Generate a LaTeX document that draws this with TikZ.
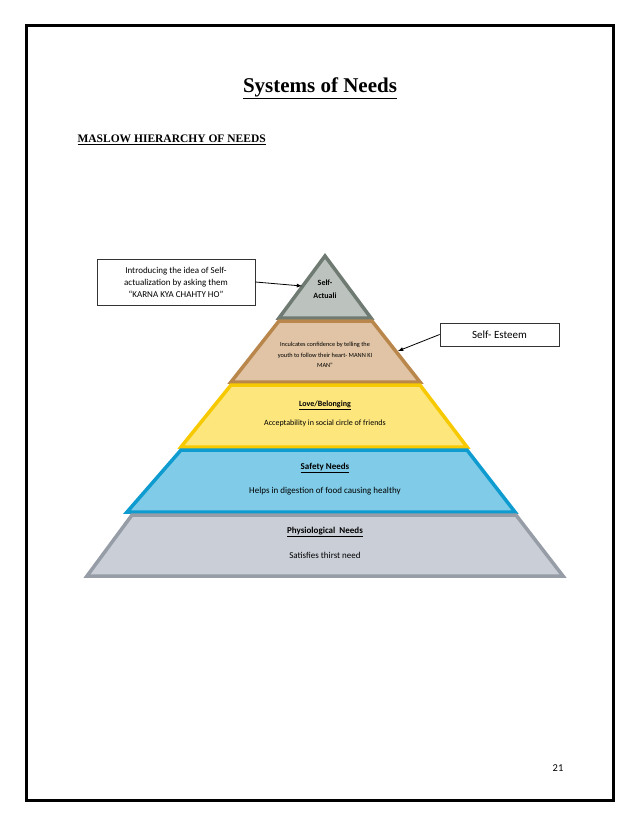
\documentclass[tikz,border=0pt]{standalone}
\usepackage{fontspec}
\setmainfont{Carlito}
\newfontfamily\serifx{Liberation Serif}
\definecolor{c1d}{HTML}{6E7A72}\definecolor{c1f}{HTML}{BCC2BE}
\definecolor{c2d}{HTML}{B9874B}\definecolor{c2f}{HTML}{E0C4A5}
\definecolor{c3d}{HTML}{F7C900}\definecolor{c3f}{HTML}{FDE67C}
\definecolor{c4d}{HTML}{0E9BD0}\definecolor{c4f}{HTML}{80CCE8}
\definecolor{c5d}{HTML}{979DA6}\definecolor{c5f}{HTML}{CACED6}
\begin{document}
\begin{tikzpicture}[x=1pt,y=-1pt,
  lvl/.style={line width=3.5pt,line join=miter},
  box/.style={draw=black!80,line width=0.8pt,fill=white,inner sep=0pt},
  arr/.style={-latex,line width=0.8pt}]
\useasboundingbox (0,0) rectangle (638,826);
\fill[white] (0,0) rectangle (638,826);
\draw[line width=3pt] (26,26) rectangle (613,800);
\node (title) at (320,88) {\serifx\bfseries\fontsize{21}{24}\selectfont\underline{Systems of Needs}};
\node[anchor=west] (sub) at (74,140) {\serifx\bfseries\fontsize{11.5}{13}\selectfont\underline{MASLOW HIERARCHY OF NEEDS}};
% levels
\draw[lvl,draw=c1d,fill=c1f] (325,256) -- (371,318) -- (279,318) -- cycle;
\begin{scope}
\clip (325,256) -- (369,316) -- (281,316) -- cycle;
\node[font=\bfseries\fontsize{8}{10}\selectfont,align=center,anchor=north] (sa) at (325,276) {Self-\\[3pt]Actuali};
\end{scope}
\draw[lvl,draw=c2d,fill=c2f] (279,321) -- (372,321) -- (420,382) -- (231,382) -- cycle;
\node[font=\fontsize{6.3}{10.5}\selectfont,align=center] (t2) at (325,355) {Inculcates confidence by telling the\\youth to follow their heart- MANN KI\\MAN"};
\draw[lvl,draw=c3d,fill=c3f] (231,385) -- (420,385) -- (467,447) -- (181,447) -- cycle;
\node[font=\bfseries\fontsize{8}{9}\selectfont] (h3) at (325,405) {\underline{Love/Belonging}};
\node[font=\fontsize{8}{9}\selectfont] (t3) at (325,423) {Acceptability in social circle of friends};
\draw[lvl,draw=c4d,fill=c4f] (181,450) -- (467,450) -- (515,512) -- (127,512) -- cycle;
\node[font=\bfseries\fontsize{9}{10}\selectfont] (h4) at (325,468) {\underline{Safety Needs}};
\node[font=\fontsize{9}{10}\selectfont] (t4) at (325,491) {Helps in digestion of food causing healthy};
\draw[lvl,draw=c5d,fill=c5f] (132,515) -- (516,515) -- (563,576) -- (87,576) -- cycle;
\node[font=\bfseries\fontsize{9}{10}\selectfont] (h5) at (325,532) {\underline{Physiological\ \ Needs}};
\node[font=\fontsize{9}{10}\selectfont] (t5) at (325,555) {Satisfies thirst need};
% callouts
\node[box,minimum width=158pt,minimum height=46pt,align=center,font=\fontsize{9}{12}\selectfont] (lb) at (176,282) {Introducing the idea of Self-\\actualization by asking them\\``KARNA KYA CHAHTY HO''};
\coordinate (la) at (302,286);
\draw[arr] (lb.east) -- (la);
\node[box,minimum width=119pt,minimum height=23pt,font=\fontsize{11}{12}\selectfont] (rb) at (499.5,334.5) {Self- Esteem};
\coordinate (ra) at (398,351);
\draw[arr] (rb.west) -- (ra);
\node[font=\fontsize{10.5}{12}\selectfont] (pg) at (558,768) {21};
\end{tikzpicture}
\end{document}
